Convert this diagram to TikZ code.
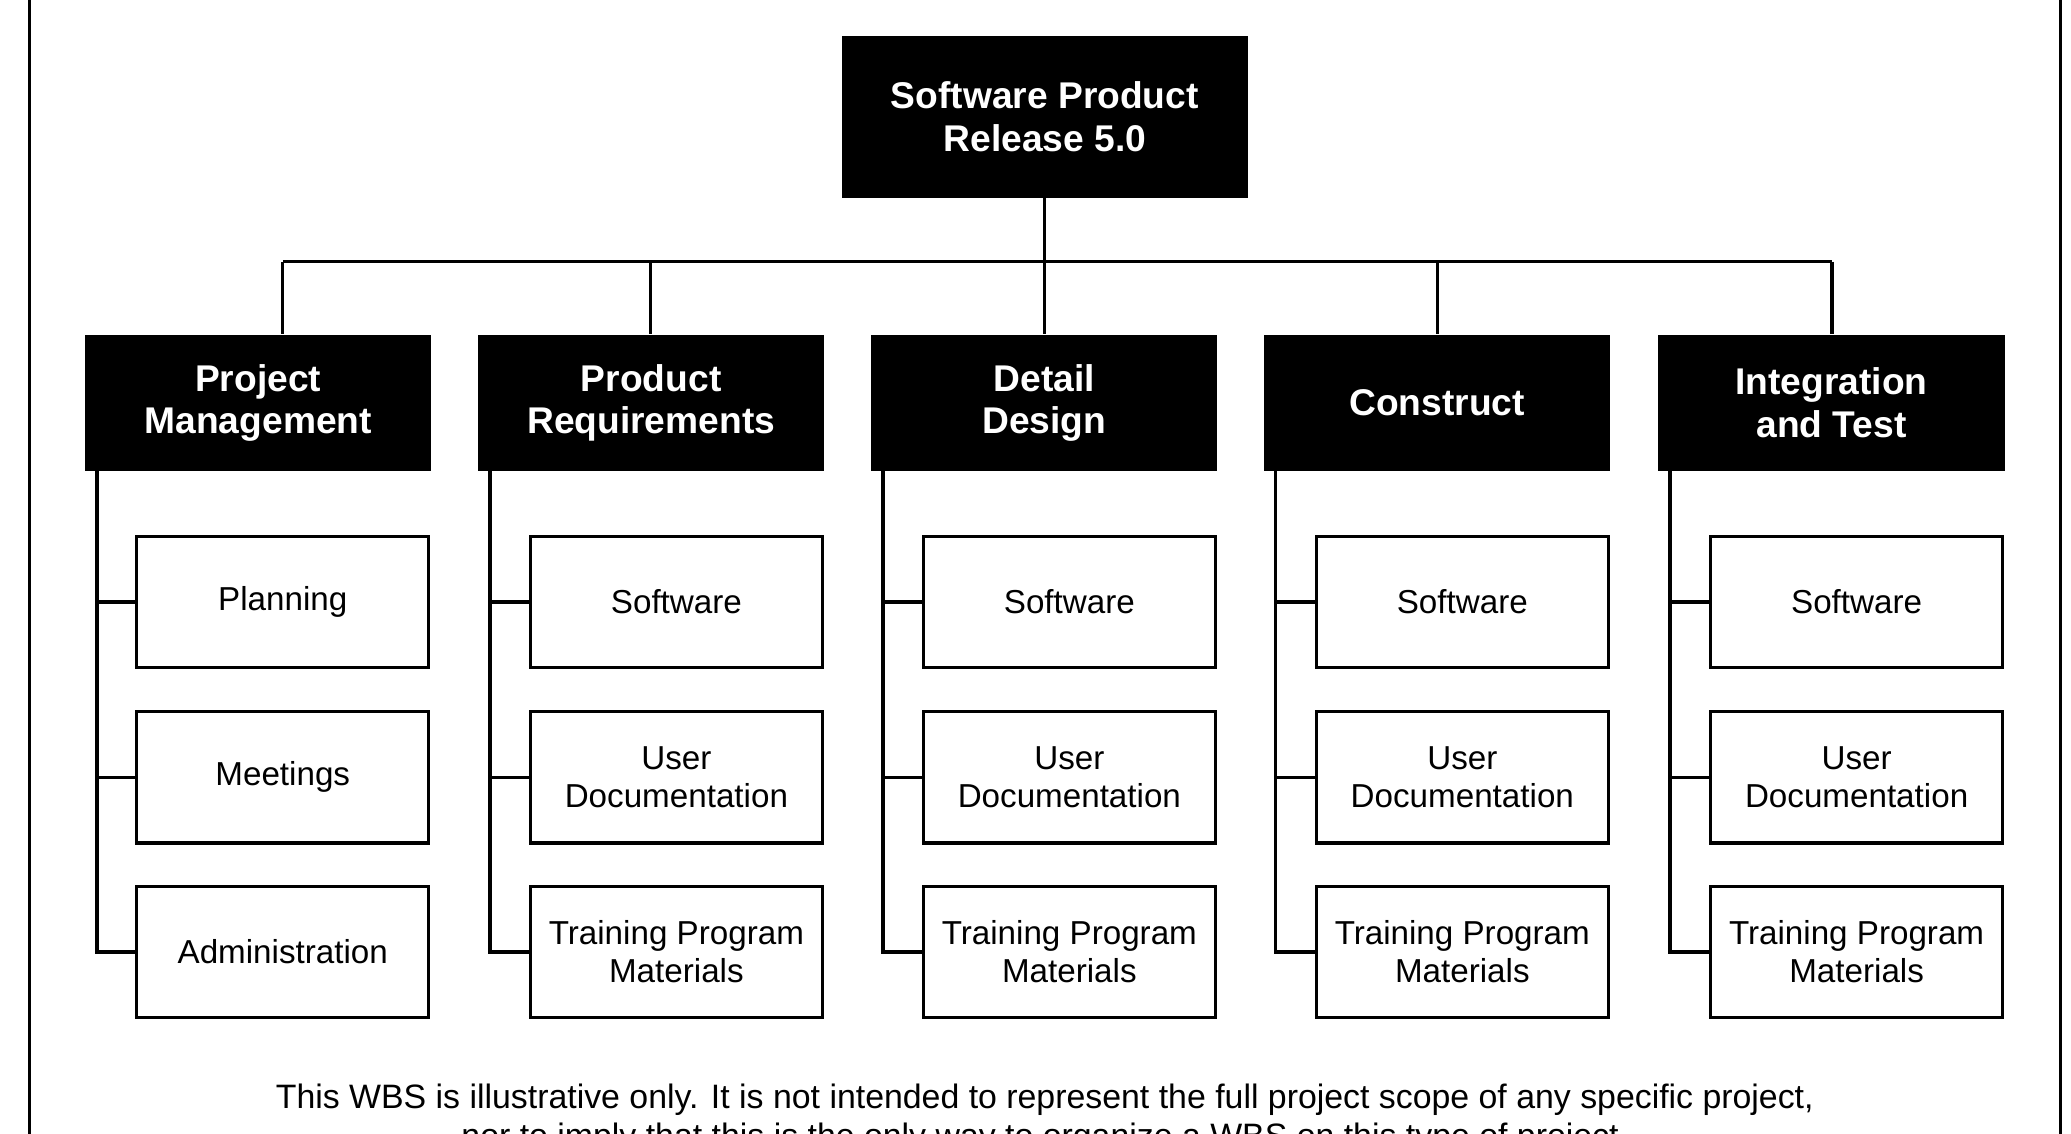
\documentclass[tikz,border=0pt]{standalone}
\usepackage{fontspec}
\setmainfont{Liberation Sans}
\begin{document}
\begin{tikzpicture}[x=1pt,y=-1pt,
  hdr/.style={fill=black,text=white,font=\fontsize{28}{32}\selectfont\bfseries,align=center,minimum width=261,minimum height=103,inner sep=0},
  child/.style={draw=black,line width=2.5pt,font=\fontsize{25}{29}\selectfont,align=center,minimum width=220,minimum height=99,inner sep=0},
  ln/.style={line width=2.5pt}]
\useasboundingbox (0,0) rectangle (1560,853.5);
\clip (0,0) rectangle (1560,853.5);
\draw[ln] (22,-5) -- (22,860);
\draw[ln] (1552,-5) -- (1552,860);
\node[hdr,minimum width=306,minimum height=122] (top) at (787,88) {Software Product\\Release 5.0};
\coordinate (barL) at (213,197);
\coordinate (barR) at (1380,197);
\draw[ln] (top.south) -- (787,197);
\draw[ln] (barL) -- (barR);
\foreach \i/\l/\t/\cx in {1/64/{Project\\Management}/213, 2/360/{Product\\Requirements}/490, 3/656/{Detail\\Design}/787, 4/952/{Construct}/1083, 5/1249/{Integration\\and Test}/1380}{
  \node[hdr] (h\i) at (\l+130.5,303.5) {\t};
  \coordinate (c\i) at (\cx,197);
  \draw[ln] (c\i) -- (c\i |- h\i.north);
  \coordinate (s\i) at (\l+9,355);
}
\node[child] (a1) at (213,453.5) {Planning};
\node[child] (a2) at (213,585.5) {Meetings};
\node[child] (a3) at (213,717) {Administration};
\foreach \i/\l in {2/360,3/656,4/952,5/1249}{
  \node[child] (a\i1) at (\l+149.5,453.5) {Software};
  \node[child] (a\i2) at (\l+149.5,585.5) {User\\Documentation};
  \node[child] (a\i3) at (\l+149.5,717) {Training Program\\Materials};
  \draw[ln] (s\i) -- (s\i |- a\i3.west) -- (a\i3.west);
  \draw[ln] (s\i |- a\i1.west) -- (a\i1.west);
  \draw[ln] (s\i |- a\i2.west) -- (a\i2.west);
}
\draw[ln] (s1) -- (s1 |- a3.west) -- (a3.west);
\draw[ln] (s1 |- a1.west) -- (a1.west);
\draw[ln] (s1 |- a2.west) -- (a2.west);
\node[font=\fontsize{25.5}{29}\selectfont,align=center,anchor=north] (note) at (787,813) {This WBS is illustrative only. It is not intended to represent the full project scope of any specific project,\\nor to imply that this is the only way to organize a WBS on this type of project.};
\end{tikzpicture}
\end{document}
